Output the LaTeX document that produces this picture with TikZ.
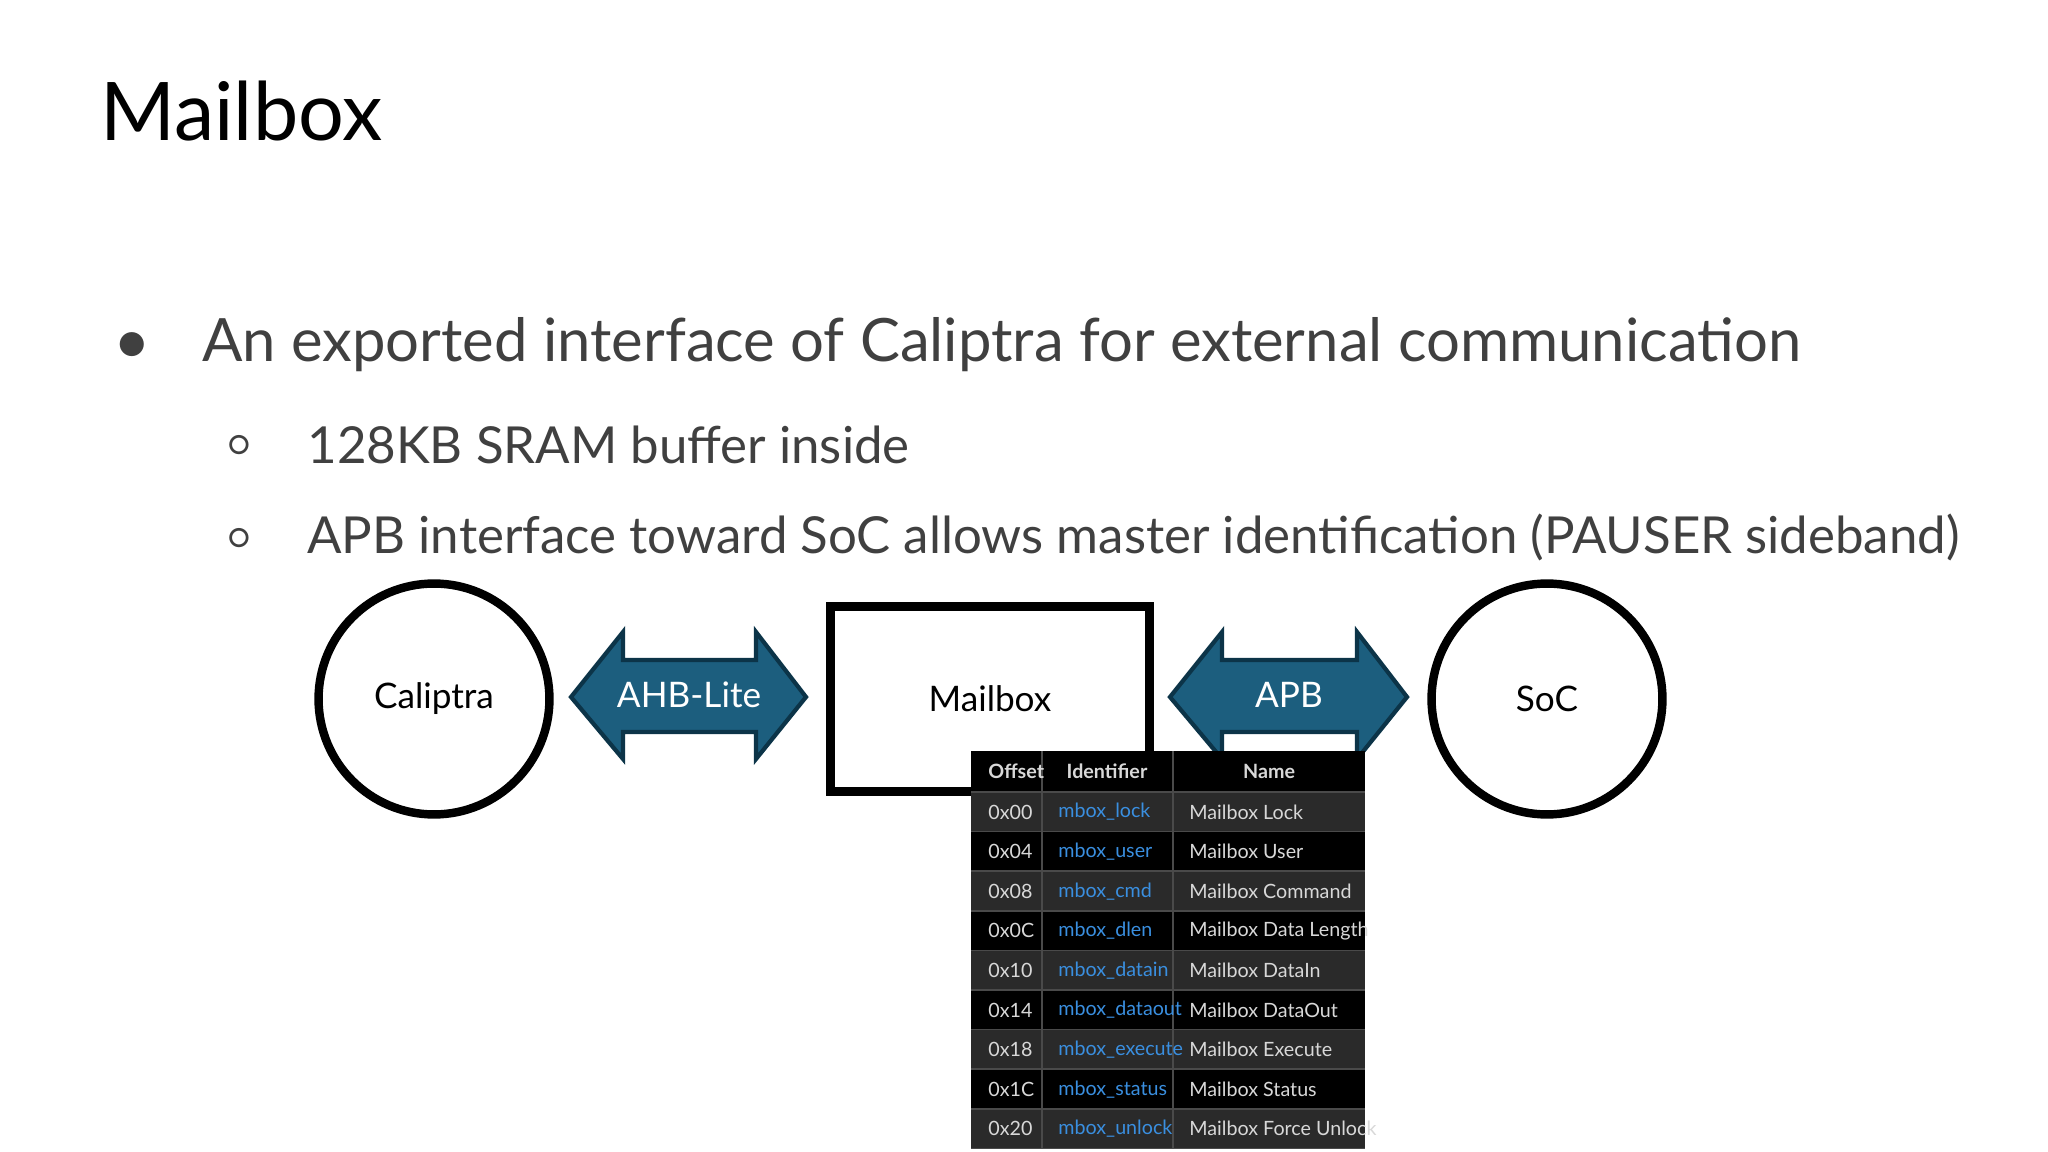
\documentclass[tikz,border=0pt]{standalone}
\usepackage{fontspec}
\setmainfont{Lato}
\begin{document}
\begin{tikzpicture}[x=0.01cm,y=-0.01cm,
  circ/.style={circle,draw,line width=2.6pt,minimum size=232\pgflinewidth},
  arr/.style={fill=arrowfill,draw=arrowline,line width=1.2pt,line join=miter},
  lbl/.style={font=\fontsize{10}{12}\selectfont},
  cell/.style={font=\fontsize{5.6}{7}\selectfont,text=celltext,anchor=west},
  ]
\definecolor{arrowfill}{HTML}{1C5E7E}
\definecolor{arrowline}{HTML}{0C3448}
\definecolor{celltext}{HTML}{D8D8D8}
\definecolor{idblue}{HTML}{3A8FE0}
\definecolor{rowgrey}{HTML}{2A2A2A}
\definecolor{gridc}{HTML}{4A4A4A}
\definecolor{bodytext}{HTML}{404040}
\useasboundingbox (0,0) rectangle (2048,1152);
\fill[white] (0,0) rectangle (2048,1152);
% title and bullets
\node[anchor=west,font=\fontsize{23}{27}\selectfont] (title) at (88,111) {Mailbox};
\node[font=\fontsize{14}{16}\selectfont,text=bodytext] (b1) at (132,346) {●};
\node[anchor=west,font=\fontsize{17}{20}\selectfont,text=bodytext] (t1) at (190,345) {An exported interface of Caliptra for external communication};
\node[font=\fontsize{10}{12}\selectfont,text=bodytext] (b2) at (239,446) {○};
\node[anchor=west,font=\fontsize{14.5}{17}\selectfont,text=bodytext] (t2) at (295,445) {128KB SRAM buffer inside};
\node[font=\fontsize{10}{12}\selectfont,text=bodytext] (b3) at (239,539) {○};
\node[anchor=west,font=\fontsize{14.5}{17}\selectfont,text=bodytext] (t3) at (295,537) {APB interface toward SoC allows master identification (PAUSER sideband)};
% circles and box
\node[circle,draw,line width=2.4pt,minimum size=6.6cm/2.86,inner sep=0,lbl] (cal) at (434,699) {Caliptra};
\node[circle,draw,line width=2.4pt,minimum size=6.6cm/2.86,inner sep=0,lbl] (soc) at (1547,699) {SoC};
\node[draw,line width=2.4pt,minimum width=3.19cm,minimum height=1.85cm,lbl] (mb) at (990,699) {Mailbox};
% double arrows
\draw[arr] (571,697) -- (623,632) -- (623,660) -- (756,660) -- (756,632) -- (806,697) -- (756,759) -- (756,732) -- (623,732) -- (623,759) -- cycle;
\node[lbl,text=white] (ahb) at (689,695) {AHB-Lite};
\draw[arr] (1170,697) -- (1222,632) -- (1222,660) -- (1357,660) -- (1357,632) -- (1407,697) -- (1357,759) -- (1357,732) -- (1222,732) -- (1222,759) -- cycle;
\node[lbl,text=white] (apb) at (1289,695) {APB};
% table
\fill[black] (971,751) rectangle (1365,1148);
\foreach \i in {0,2,4,6,8}{
  \fill[rowgrey] (971,{792+\i*39.6}) rectangle (1365,{792+(\i+1)*39.6});
}
\foreach \i in {0,...,9}{
  \draw[gridc,line width=0.5pt] (971,{792+\i*39.6}) -- (1365,{792+\i*39.6});
}
\draw[gridc,line width=0.5pt] (1042,751) -- (1042,1148) (1173,751) -- (1173,1148);
\node[cell,font=\fontsize{5.6}{7}\selectfont\bfseries] (h1) at (976,771) {Offset};
\node[cell,font=\fontsize{5.6}{7}\selectfont\bfseries,anchor=center] (h2) at (1107,771) {Identifier};
\node[cell,font=\fontsize{5.6}{7}\selectfont\bfseries,anchor=center] (h3) at (1269,771) {Name};
\foreach \o/\id/\nm [count=\k from 0] in {0x00/mbox\_lock/Mailbox Lock,0x04/mbox\_user/Mailbox User,0x08/mbox\_cmd/Mailbox Command,0x0C/mbox\_dlen/Mailbox Data Length,0x10/mbox\_datain/Mailbox DataIn,0x14/mbox\_dataout/Mailbox DataOut,0x18/mbox\_execute/Mailbox Execute,0x1C/mbox\_status/Mailbox Status,0x20/mbox\_unlock/Mailbox Force Unlock}{
  \node[cell] (o\k) at (976,{812+\k*39.6}) {\o};
  \node[cell,text=idblue] (i\k) at (1046,{812+\k*39.6}) {\id};
  \node[cell] (n\k) at (1177,{812+\k*39.6}) {\nm};
}
\end{tikzpicture}
\end{document}
